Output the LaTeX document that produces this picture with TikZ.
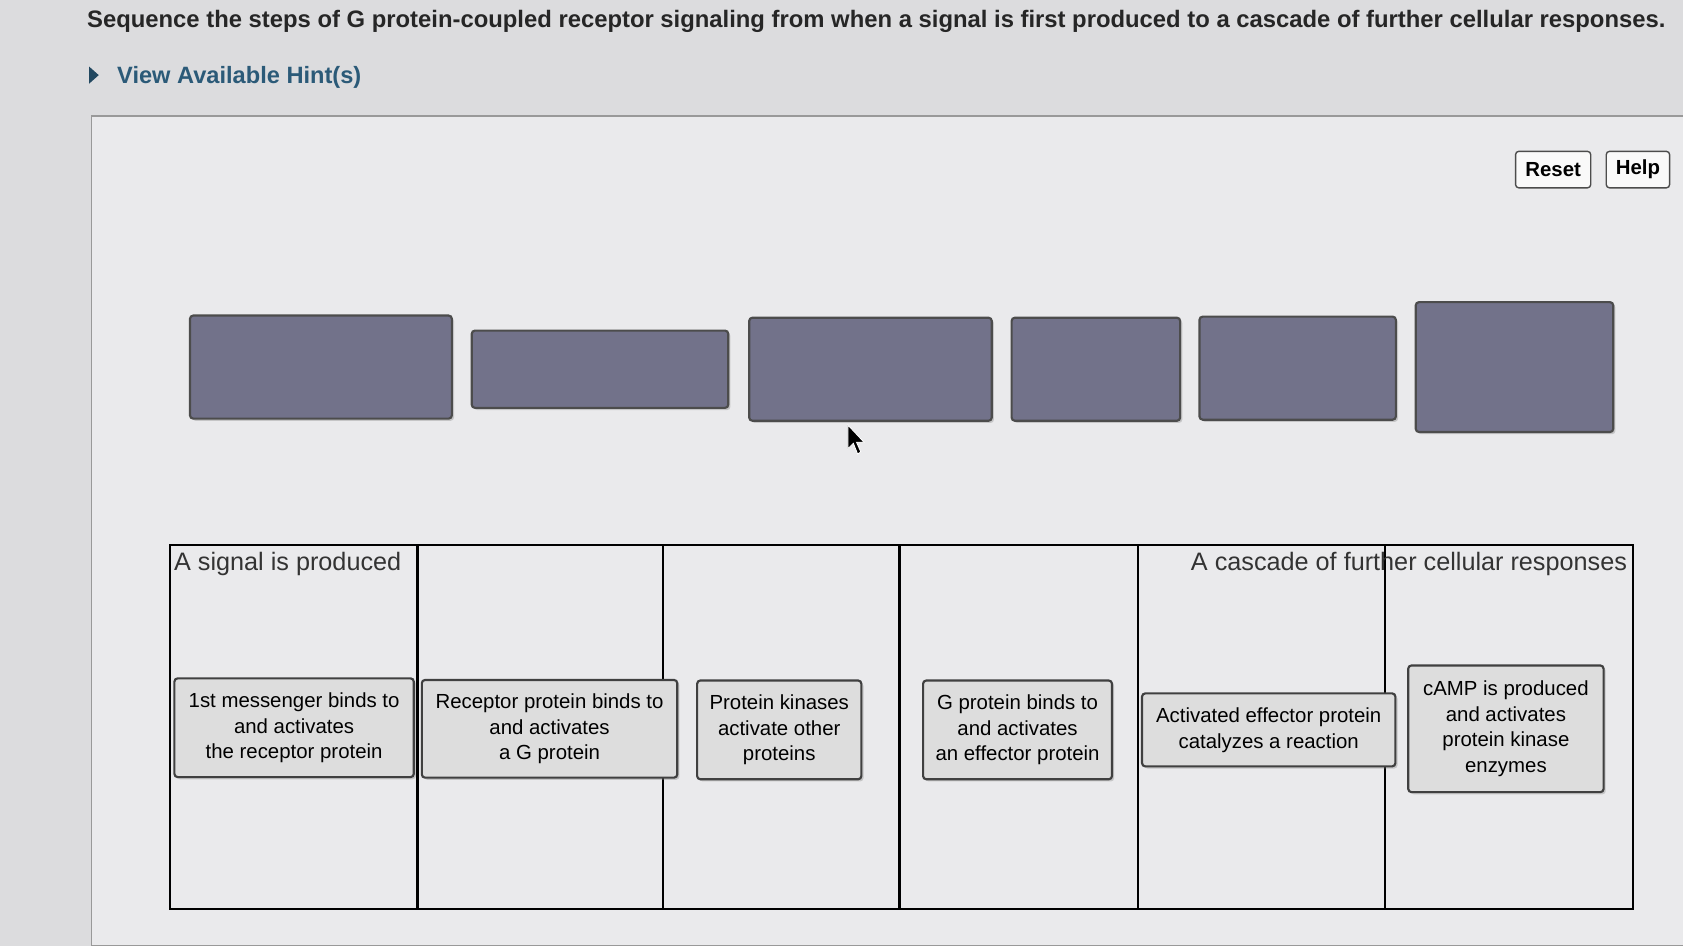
\documentclass[tikz,border=0pt]{standalone}
\usepackage{fontspec}
\setmainfont{Liberation Sans}
\usetikzlibrary{shadows}
\definecolor{bg}{HTML}{DCDCDE}
\definecolor{panel}{HTML}{EAEAEC}
\definecolor{slot}{HTML}{72728A}
\definecolor{card}{HTML}{DDDDDD}
\definecolor{hint}{HTML}{2B5A78}
\tikzset{
  slotbox/.style={draw=black!70,fill=slot,rounded corners=3pt,line width=2pt,drop shadow={opacity=0.35,shadow xshift=2pt,shadow yshift=-2pt}},
  cardbox/.style={draw=black!75,fill=card,rounded corners=3pt,line width=2pt,align=center,font=\fontsize{19}{24}\selectfont,inner sep=0pt,drop shadow={opacity=0.35,shadow xshift=2pt,shadow yshift=-2pt}},
  btn/.style={draw=black!70,fill=white!95!gray,rounded corners=3pt,font=\bfseries\fontsize{19}{22}\selectfont,inner sep=0pt,line width=1.3pt},
  hdr/.style={font=\fontsize{23.5}{26}\selectfont,text=black!80,inner sep=0pt}
}
\begin{document}
\begin{tikzpicture}[x=1pt,y=-1pt]
\useasboundingbox (0,0) rectangle (1568,881);
\fill[bg] (0,0) rectangle (1568,881);
\node[anchor=west,font=\bfseries\fontsize{22.2}{26}\selectfont,text=black!85,inner sep=0pt] (title) at (81,20) {Sequence the steps of G protein-coupled receptor signaling from when a signal is first produced to a cascade of further cellular responses.};
\fill[hint!80!black] (83,62) -- (92,70) -- (83,78) -- cycle;
\node[anchor=west,font=\bfseries\fontsize{22}{26}\selectfont,text=hint,inner sep=0pt] (hintt) at (109,72) {View Available Hint(s)};
\draw[black!40,fill=panel,line width=1.3pt] (85,108) rectangle (1580,881);
\node[btn,minimum width=70pt,minimum height=34pt] (reset) at (1447,158) {Reset};
\node[btn,minimum width=59pt,minimum height=34pt] (help) at (1526,158) {Help};
\node[slotbox,minimum width=244pt,minimum height=96pt] (s1) at (299,342) {};
\node[slotbox,minimum width=239pt,minimum height=72pt] (s2) at (559,344) {};
\node[slotbox,minimum width=226pt,minimum height=96pt] (s3) at (811,344) {};
\node[slotbox,minimum width=157pt,minimum height=96pt] (s4) at (1021,344) {};
\node[slotbox,minimum width=183pt,minimum height=96pt] (s5) at (1209,343) {};
\node[slotbox,minimum width=184pt,minimum height=121pt] (s6) at (1411,342) {};
\draw[black,line width=2pt] (158,508) rectangle (1521,847);
\foreach \x in {389,618,838,1060,1290} \draw[black,line width=2pt] (\x,508) -- (\x,847);
\node[hdr,anchor=west] (h1) at (162,525) {A signal is produced};
\node[hdr,anchor=east] (h2) at (1516,525) {A cascade of further cellular responses};
\node[cardbox,minimum width=223pt,minimum height=92pt] (c1) at (274,678) {1st messenger binds to\\and activates\\the receptor protein};
\node[cardbox,minimum width=238pt,minimum height=91pt] (c2) at (512,679) {Receptor protein binds to\\and activates\\a G protein};
\node[cardbox,minimum width=153pt,minimum height=92pt] (c3) at (726,680) {Protein kinases\\activate other\\proteins};
\node[cardbox,minimum width=176pt,minimum height=92pt] (c4) at (948,680) {G protein binds to\\and activates\\an effector protein};
\node[cardbox,minimum width=236pt,minimum height=68pt] (c5) at (1182,680) {Activated effector protein\\catalyzes a reaction};
\node[cardbox,minimum width=182pt,minimum height=118pt] (c6) at (1403,679) {cAMP is produced\\and activates\\protein kinase\\enzymes};
\draw[fill=black,draw=white,line width=0.8pt] (790,396) -- (790,418) -- (795,413) -- (799,423) -- (802,421) -- (798,412) -- (805,412) -- cycle;
\end{tikzpicture}
\end{document}
